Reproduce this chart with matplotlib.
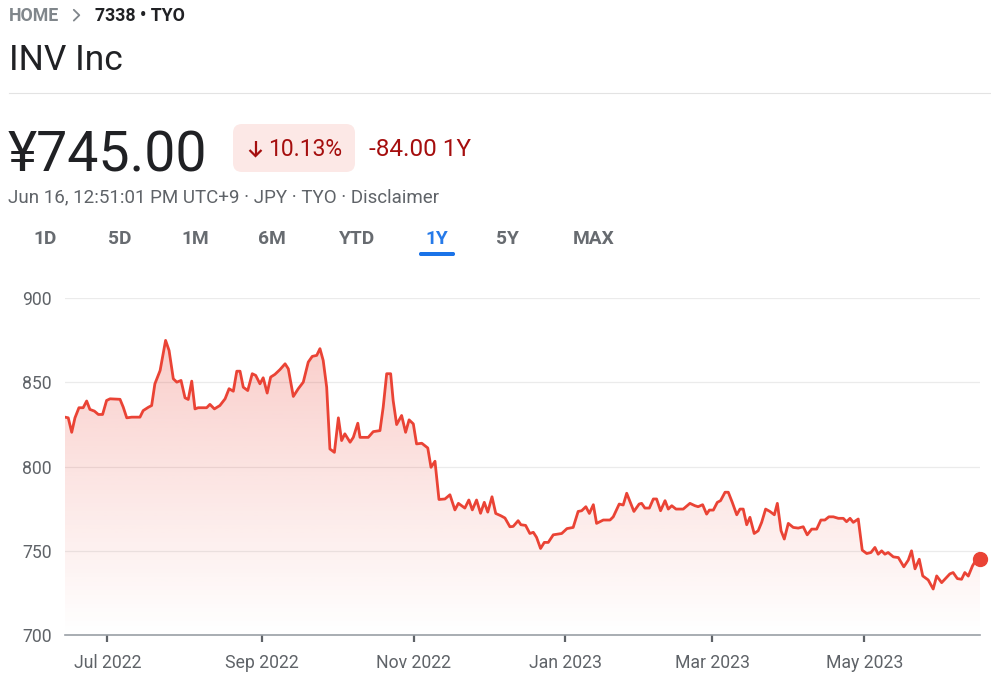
import numpy as np
import matplotlib
matplotlib.use("Agg")
import matplotlib.pyplot as plt
import matplotlib.dates as mdates
from matplotlib.patches import FancyBboxPatch
from matplotlib.colors import to_rgb

# ---------------- data ----------------
start_date = "2022-06-14"
days = [0.0, 1.3, 2.7, 4.0, 5.6, 7.3, 8.7, 10.0, 11.8, 13.4, 15.1, 16.7, 18.1, 22.1, 23.4, 24.8,
        26.8, 30.1, 31.4, 33.5, 34.8, 36.1, 38.2, 40.4, 41.8, 43.5, 44.9, 46.6, 48.2, 49.5, 50.9,
        52.2, 53.5, 56.9, 58.2, 60.0, 62.2, 64.3, 65.9, 67.6, 69.0, 70.3, 71.6, 73.4, 75.2, 76.6,
        78.3, 79.6, 81.2, 82.6, 84.3, 86.3, 88.4, 89.7, 91.7, 93.7, 95.7, 97.7, 99.3, 101.1, 102.4,
        103.7, 105.1, 106.4, 108.2, 109.8, 111.1, 112.4, 114.5, 115.8, 117.6, 118.5, 121.8, 123.8,
        126.5, 127.8, 129.2, 130.8, 131.8, 133.2, 135.2, 136.8, 138.2, 139.9, 141.2, 143.3, 145.7,
        147.0, 148.6, 150.2, 152.6, 154.6, 156.6, 158.0, 160.6, 162.2, 163.6, 165.3, 166.9, 168.4,
        169.8, 171.5, 173.0, 175.1, 176.7, 178.7, 180.0, 182.0, 183.1, 185.0, 186.7, 188.1, 189.4,
        191.0, 192.5, 194.1, 196.1, 199.5, 201.6, 204.1, 206.1, 207.5, 209.2, 210.6, 212.2, 213.5,
        216.2, 218.9, 220.2, 222.6, 224.2, 225.6, 226.9, 228.5, 230.6, 231.6, 232.9, 234.7, 236.3,
        237.6, 239.2, 241.0, 242.3, 243.7, 245.4, 248.3, 251.0, 253.0, 254.3, 256.1, 257.7, 258.8,
        260.4, 262.0, 263.3, 265.1, 266.4, 268.0, 269.8, 271.1, 272.4, 273.8, 275.1, 276.8, 278.4,
        279.8, 281.4, 283.1, 284.9, 286.1, 287.6, 288.9, 290.5, 292.5, 294.5, 296.5, 298.1, 299.9,
        301.9, 303.6, 305.2, 306.8, 308.6, 310.6, 312.6, 313.9, 315.3, 316.6, 318.6, 320.2, 322.0,
        323.7, 325.3, 326.6, 328.0, 329.3, 330.6, 332.7, 334.7, 336.9, 338.7, 340.0, 341.4, 343.1,
        344.5, 346.7, 348.7, 350.1, 352.1, 355.4, 356.7, 358.4, 360.1, 361.4, 362.8, 364.5, 366.1,
        367.5]
prices = [829.4, 829, 820.4, 829, 835, 835, 839, 834, 833, 831, 831, 839.3, 840.3, 840, 835.3, 829,
          829.4, 829.4, 833.3, 835.3, 836.3, 849.2, 857.1, 875, 869, 852.2, 850.2, 851.2, 840.9,
          839.9, 850.8, 834.3, 835, 835, 837, 834.3, 836.3, 840.3, 846.3, 844.8, 856.7, 856.7, 847.2,
          845.2, 855.2, 854.2, 849.2, 852.8, 843.7, 853.2, 854.8, 857.6, 861.1, 858.1, 841.7, 846.3,
          850.2, 862.1, 865.5, 866.1, 870.1, 863.1, 847.2, 810.5, 808.5, 829, 815.5, 819.5, 814.5,
          817.4, 825.8, 817.4, 817.4, 820.8, 821.4, 835.3, 855.2, 855.2, 839.3, 825, 830.4, 820.4,
          827.8, 825.4, 813.5, 813.9, 811.1, 799.6, 803.2, 780.5, 780.8, 783.3, 774.3, 778.2, 775.4,
          780.2, 774.3, 780.2, 772.3, 778.8, 773, 782.1, 772.2, 770.8, 769.5, 764.3, 764.5, 767.9,
          765.5, 765.1, 760.3, 761, 758, 751.4, 755, 755, 759.5, 760.3, 763.2, 763.9, 773.4, 773.8,
          776.2, 772.2, 777.4, 766.3, 768.3, 768.3, 770.2, 777.8, 777.2, 784.2, 779.4, 773.4, 777.8,
          778.2, 775.4, 775.4, 780.8, 780.8, 773.8, 779.8, 774.8, 776.8, 774.8, 774.8, 778.2, 776.8,
          776.2, 777.4, 771.8, 774.2, 774.2, 778.8, 779.8, 784.8, 784.8, 778.8, 771.4, 774.8, 774.8,
          765.5, 769.9, 760.3, 761.9, 766.9, 774.8, 773.4, 771.4, 778.2, 761.9, 757, 766.3, 763.9,
          763.5, 764.3, 759.5, 762.9, 762.9, 768.3, 768.3, 770.2, 770.2, 769.3, 769.3, 767.3, 769.3,
          766.9, 768.9, 750.4, 748.4, 749, 752, 748, 750, 748, 749, 746.4, 746, 740.5, 744.5, 750,
          739.3, 745, 735.1, 732.7, 727.3, 735.1, 731.1, 736.3, 737.1, 733.5, 733.1, 737.1, 735,
          741.1, 745, 745]
y_ticks = [700, 750, 800, 850, 900]
month_ticks = ["2022-07-01", "2022-09-01", "2022-11-01", "2023-01-01", "2023-03-01", "2023-05-01"]
tabs = ["1D", "5D", "1M", "6M", "YTD", "1Y", "5Y", "MAX"]
active_tab = "1Y"

n = min(len(days), len(prices))
days, prices = days[:n], prices[:n]

# ---------------- style ----------------
plt.rcParams["font.family"] = ["Roboto", "DejaVu Sans"]
RED = "#ea4335"
DARK_RED = "#a50e0e"
GRAY = "#5f6368"
TEXT = "#202124"
BLUE = "#1a73e8"

W, H = 991, 679
fig = plt.figure(figsize=(W / 100, H / 100), dpi=100)
fig.patch.set_facecolor("white")

# header overlay in pixel coordinates
hax = fig.add_axes([0, 0, 1, 1], zorder=0)
hax.set_xlim(0, W)
hax.set_ylim(H, 0)
hax.axis("off")

hax.text(9, 20.7, "HOME", fontsize=12.8, weight="bold", color="#80868b", va="baseline", ha="left")
hax.plot([73.8, 79.3, 73.8], [9.8, 15.2, 20.6], color="#80868b", lw=1.3, solid_capstyle="round")
hax.text(95, 20.7, "7338 • TYO", fontsize=12.8, weight="bold", color=TEXT, va="baseline", ha="left")
hax.text(9, 70, "INV Inc", fontsize=25.5, color=TEXT, va="baseline", ha="left")
hax.plot([9, W], [93.3, 93.3], color="#e3e3e3", lw=0.8)

hax.text(8, 171.7, "¥745.00", fontsize=40, color=TEXT, va="baseline", ha="left")
badge = FancyBboxPatch((233, 124), 122, 48, boxstyle="round,pad=0,rounding_size=9",
                       facecolor="#fce8e6", edgecolor="none")
hax.add_patch(badge)
# down arrow icon
hax.plot([255.5, 255.5], [140.5, 156], color=DARK_RED, lw=1.6, solid_capstyle="butt")
hax.plot([249.5, 255.5, 261.5], [150, 156, 150], color=DARK_RED, lw=1.6,
         solid_joinstyle="miter", solid_capstyle="butt")
hax.text(268, 155.7, "10.13%", fontsize=16.5, color=DARK_RED, va="baseline", ha="left")
hax.text(369, 155.7, "-84.00 1Y", fontsize=17.5, color=DARK_RED, va="baseline", ha="left")

hax.text(8, 202.7, "Jun 16, 12:51:01 PM UTC+9 · JPY · TYO · Disclaimer", fontsize=13.5,
         color=GRAY, va="baseline", ha="left")

tab_centers = [44.7, 119.3, 195, 272, 357, 436.5, 507.5, 593.7]
for lab, cx in zip(tabs, tab_centers):
    hax.text(cx, 244.5, lab, fontsize=13.8, weight="bold", color=BLUE if lab == active_tab else GRAY,
             va="baseline", ha="center", alpha=0.95)
ul = FancyBboxPatch((419, 252), 36, 4, boxstyle="round,pad=0,rounding_size=1.8",
                    facecolor=BLUE, edgecolor="none")
hax.add_patch(ul)

# ---------------- chart ----------------
ax_left, ax_right, ax_top, ax_bottom = 65, 980, 298.3, 635
ax = fig.add_axes([ax_left / W, 1 - ax_bottom / H, (ax_right - ax_left) / W,
                   (ax_bottom - ax_top) / H], zorder=2)
ax.set_facecolor("none")

dates = np.datetime64(start_date) + (np.array(days) * 86400).astype("timedelta64[s]")
xnum = mdates.date2num(dates)
vals = np.array(prices, dtype=float)

ax.set_ylim(700, 900)
ax.set_xlim(xnum[0], xnum[-1])

# gradient fill under the line
poly = ax.fill_between(xnum, vals, 700, facecolor="none", edgecolor="none")
grad = np.zeros((256, 1, 4))
grad[..., :3] = to_rgb(RED)
grad[:, 0, 3] = np.linspace(0.30, 0.0, 256)
im = ax.imshow(grad, extent=[xnum[0], xnum[-1], 700, 900], aspect="auto", origin="upper",
               zorder=1, interpolation="bilinear")
im.set_clip_path(poly.get_paths()[0], transform=ax.transData)

ax.plot(xnum, vals, color=RED, lw=2.0, solid_joinstyle="round", zorder=3)
ax.plot(xnum[-1], vals[-1], "o", ms=10, color=RED, clip_on=False, zorder=4)

ax.set_yticks(y_ticks)
ax.yaxis.grid(True, color="#ebebeb", lw=0.9, zorder=0)
ax.set_axisbelow(True)
tick_nums = mdates.date2num(np.array(month_ticks, dtype="datetime64[D]"))
ax.set_xticks(tick_nums)
ax.xaxis.set_major_formatter(mdates.DateFormatter("%b %Y"))

for s in ["top", "right", "left"]:
    ax.spines[s].set_visible(False)
ax.spines["bottom"].set_color("#9aa0a6")
ax.spines["bottom"].set_linewidth(1.2)
ax.tick_params(axis="y", length=0, pad=9.5, labelsize=12.7, labelcolor=GRAY)
ax.tick_params(axis="x", length=5, width=1.6, color=GRAY, pad=8.5, labelsize=12.7, labelcolor=GRAY)

fig.savefig("out.png", dpi=100, facecolor="white")
